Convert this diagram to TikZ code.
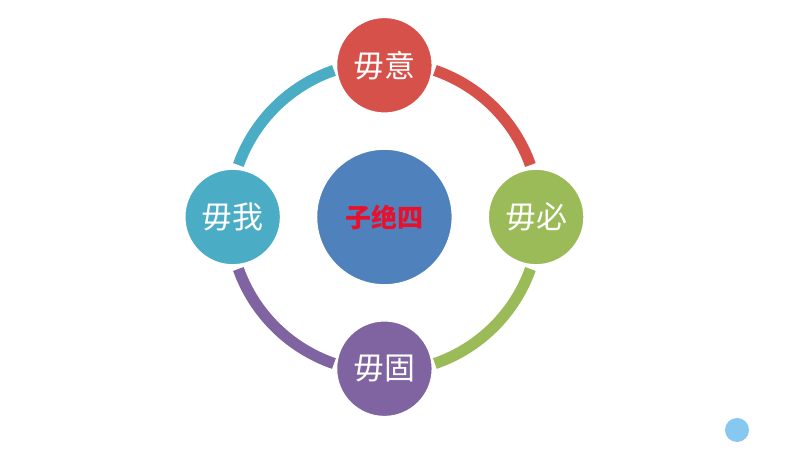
\documentclass[tikz,border=0pt]{standalone}
\usepackage{fontspec}
\newfontfamily\cjk{Noto Sans CJK SC}
\usepackage{xcolor}
\usepackage{tikz}
\usetikzlibrary{positioning,calc}

\definecolor{yired}{HTML}{D5514A}
\definecolor{yiblue}{HTML}{4BACC6}
\definecolor{yigreen}{HTML}{9BBB59}
\definecolor{yipurple}{HTML}{8064A2}
\definecolor{yicenter}{HTML}{4F81BD}
\definecolor{yitext}{HTML}{E8112D}
\definecolor{yibadge}{HTML}{86C8F0}

\begin{document}
\begin{tikzpicture}[x=0.025cm,y=0.025cm,
    every node/.style={font=\cjk},
    wu/.style={circle,draw=white,line width=1.2pt,minimum size=2.4cm,inner sep=0pt,text=white,font=\cjk\fontsize{22}{25}\selectfont},
    hub/.style={circle,draw=white,line width=1.2pt,fill=yicenter,minimum size=3.4cm,inner sep=0pt,text=yitext,font=\cjk\bfseries\fontsize{18.5}{21}\selectfont},
    ringarc/.style={line width=8pt,line cap=butt},
    node distance=0.85cm]
    \useasboundingbox (0,0) rectangle (800,451);
    \coordinate (ring) at (384.4,234);
    % the four arcs of the ring
    \foreach \a/\c in {19.6/yired, 109/yiblue, 199.6/yipurple, 289/yigreen}
        \draw[ringarc,\c] (ring) ++(\a:155) arc[start angle=\a, delta angle=51.4, radius=155];
    \node[hub] (zi) at (ring) {子绝四};
    \node[wu,fill=yired,above = of zi] (yi) {毋意};
    \node[wu,fill=yigreen,right = of zi] (bi) {毋必};
    \node[wu,fill=yipurple,below = of zi] (gu) {毋固};
    \node[wu,fill=yiblue,left = of zi] (wo) {毋我};
    % badge in the corner
    \node[circle,fill=yibadge,minimum size=0.6cm,inner sep=0pt] (badge) at (737,21) {};
\end{tikzpicture}
\end{document}
